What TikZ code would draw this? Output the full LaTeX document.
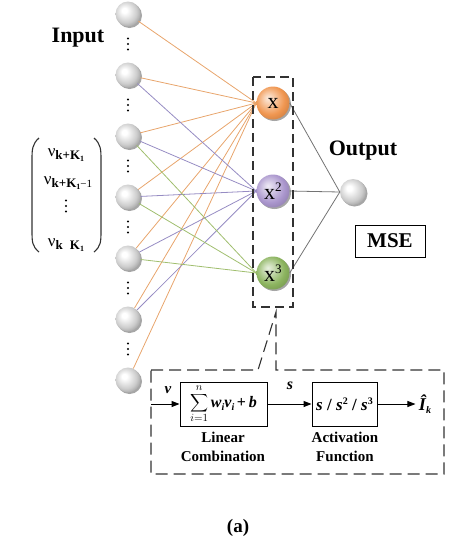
\documentclass[tikz,border=0pt]{standalone}
\usepackage{fontspec}
\setmainfont{Liberation Serif}
\usetikzlibrary{shadows,arrows.meta}
\definecolor{lor}{RGB}{232,165,108}
\definecolor{lpu}{RGB}{150,140,195}
\definecolor{lgr}{RGB}{160,190,110}
\definecolor{hor}{RGB}{240,150,80}
\definecolor{hpu}{RGB}{170,150,205}
\definecolor{hgr}{RGB}{140,180,95}
\definecolor{dk}{RGB}{50,50,50}
\pgfdeclareradialshading{inshade}{\pgfpoint{-8bp}{8bp}}{color(0bp)=(white); color(5bp)=(white); color(22bp)=(black!20); color(32bp)=(black!40); color(50bp)=(black!55)}
\pgfdeclareradialshading{orshade}{\pgfpoint{-8bp}{8bp}}{color(0bp)=(hor!20!white); color(6bp)=(hor!40!white); color(22bp)=(hor); color(32bp)=(hor!85!black); color(50bp)=(hor!70!black)}
\pgfdeclareradialshading{pushade}{\pgfpoint{-8bp}{8bp}}{color(0bp)=(hpu!20!white); color(6bp)=(hpu!40!white); color(22bp)=(hpu); color(32bp)=(hpu!85!black); color(50bp)=(hpu!70!black)}
\pgfdeclareradialshading{grshade}{\pgfpoint{-8bp}{8bp}}{color(0bp)=(hgr!20!white); color(6bp)=(hgr!40!white); color(22bp)=(hgr); color(32bp)=(hgr!85!black); color(50bp)=(hgr!70!black)}
\newcommand{\nusub}[1]{{\fontsize{17}{17}\selectfont ν}\raisebox{-2.5pt}{\fontsize{13}{13}\selectfont\bfseries #1}}
\newcommand{\ssub}[1]{\raisebox{-2pt}{\fontsize{8}{8}\selectfont #1}}
\newcommand{\bivar}[1]{{\bfseries\itshape #1}}
\newcommand{\lowsub}[1]{\raisebox{-3pt}{\fontsize{10}{10}\selectfont\bfseries\itshape #1}}
\newcommand{\hisup}[1]{\raisebox{6pt}{\fontsize{10}{10}\selectfont\bfseries #1}}
\newcommand{\bigsumop}{\mathop{\vcenter{\hbox{\scalebox{1.25}{$\displaystyle\sum$}}}}\limits}
\tikzset{
  ball/.style={circle, inner sep=0pt, drop shadow={shadow xshift=1.5pt, shadow yshift=-1.5pt, opacity=0.35, fill=black}},
  inball/.style={ball, minimum size=25pt, shading=inshade},
  hball/.style={ball, minimum size=33pt, font=\fontsize{22}{22}\selectfont},
  oline/.style={lor, line width=0.8pt},
  pline/.style={lpu, line width=0.8pt},
  gline/.style={lgr, line width=0.8pt},
  kline/.style={black!55, line width=0.8pt},
  hdash/.style={dk, line width=1.1pt, dash pattern=on 9pt off 5pt},
  bdash/.style={dk, line width=1.1pt, dash pattern=on 12pt off 6pt},
  bigtitle/.style={font=\fontsize{22}{24}\selectfont\bfseries},
  blk/.style={draw, line width=0.9pt, inner sep=0pt},
  captxt/.style={font=\fontsize{15}{19}\selectfont\bfseries, align=center},
  arr/.style={line width=0.9pt, -{Triangle[length=8pt,width=6pt]}},
}
\begin{document}
\begin{tikzpicture}[x=1pt,y=-1pt]
\useasboundingbox (0,0) rectangle (474,550);
% input nodes
\foreach \i/\y in {1/14,2/75,3/136,4/197,5/258,6/319,7/380}
  \node[inball] (i\i) at (128,\y) {};
\foreach \y in {44,105,166,227,288,349}
  \foreach \d in {-5.5,0,5.5} \fill (128,\y+\d) circle (1.2);
% hidden nodes
\node[hball, shading=orshade] (h1) at (273,103) {x};
\node[hball, shading=pushade] (h2) at (273,191) {x\textsuperscript{\fontsize{13}{13}\selectfont 2}};
\node[hball, shading=grshade] (h3) at (273,273) {x\textsuperscript{\fontsize{13}{13}\selectfont 3}};
\node[inball, minimum size=26pt] (out) at (353,192) {};
% connections
\foreach \i in {1,...,7} \draw[oline] (i\i) -- (h1.west);
\foreach \i in {2,...,6} \draw[pline] (i\i) -- (h2.west);
\foreach \i in {3,...,5} \draw[gline] (i\i) -- (h3.west);
\foreach \h in {1,2,3} \draw[kline] (h\h.east) -- (out.west);
% hidden box and callout
\draw[hdash] (253,77) rectangle (293,307);
\draw[bdash] (151,370) -- (258,370) -- (276,312) -- (276,370) -- (444,370) -- (444,474) -- (151,474) -- cycle;
% titles
\node[bigtitle] (tin) at (78,38) {Input};
\node[bigtitle] (tout) at (363,151) {Output};
\node[draw, line width=0.9pt, minimum width=70pt, minimum height=32pt, font=\fontsize{21}{21}\selectfont\bfseries] (mse) at (390,241) {MSE};
% column vector
\draw[dk, line width=1.1pt] (39,138) .. controls (32,144) and (32,150) .. (32,160) -- (32,230) .. controls (32,242) and (32,246) .. (39,252);
\draw[dk, line width=1.1pt] (94,138) .. controls (101,144) and (101,150) .. (101,160) -- (101,230) .. controls (101,242) and (101,246) .. (94,252);
\node (v1) at (66,155) {\nusub{k+K\ssub{1}}};
\node (v2) at (68,183) {\nusub{k+K\ssub{1}{\mdseries\fontsize{11}{11}\selectfont −1}}};
\foreach \d in {-5.5,0,5.5} \fill (66,206+\d) circle (1.2);
\node (v3) at (66,245) {\nusub{k\hspace{7pt}K\ssub{1}}};
% bottom block
\node[blk, minimum width=87pt, minimum height=44pt] (lc) at (223.5,404) {\fontsize{16}{16}\selectfont $\bigsumop_{\scriptstyle i=1}^{\scriptstyle n}$\,\bivar{w}\lowsub{i}\bivar{v}\lowsub{i}\,\textbf{+}\,\bivar{b}};
\node[blk, minimum width=65pt, minimum height=44pt] (af) at (344.5,404) {\fontsize{17}{17}\selectfont\bivar{s} \textbf{/} \bivar{s}\hisup{2} \textbf{/} \bivar{s}\hisup{3}};
\node[font=\fontsize{18}{18}\selectfont] (ih) at (425,404) {\bivar{Î}\lowsub{k}};
\coordinate (vin) at (151,404);
\draw[arr] (vin) -- (lc.west);
\draw[arr] (lc.east) -- (af.west);
\draw[arr] (af.east) -- (ih.west);
\node[font=\fontsize{15}{15}\selectfont] (lv) at (168,390) {\bivar{v}};
\node[font=\fontsize{16}{16}\selectfont] (ls) at (290,386) {\bivar{s}};
\node[captxt] (clc) at (223,447) {Linear\\Combination};
\node[captxt] (caf) at (345,447) {Activation\\Function};
\node[font=\fontsize{19}{19}\selectfont\bfseries] (ta) at (238,528) {(a)};
\end{tikzpicture}
\end{document}
